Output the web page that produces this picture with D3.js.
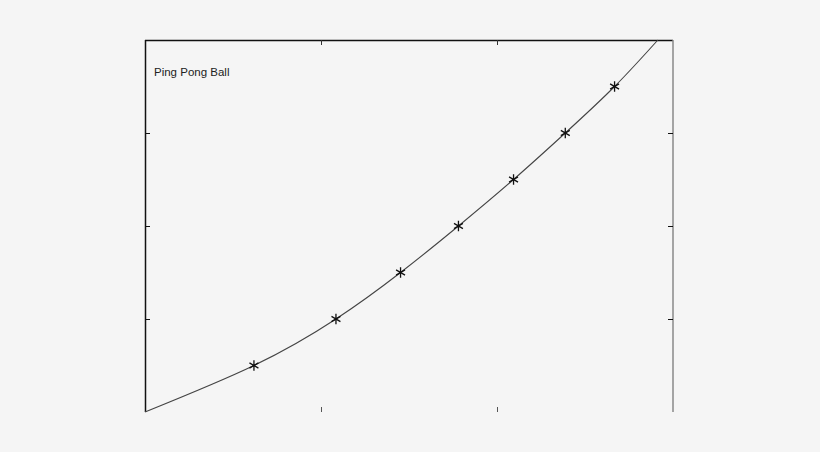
<!DOCTYPE html>
<html>
<head>
<meta charset="utf-8">
<script src="https://cdn.jsdelivr.net/npm/d3@7"></script>
<style>
  body { margin: 0; background: #f5f5f5; }
  svg { display: block; }
</style>
</head>
<body>
<div id="chart"></div>
<script>
// measured points (time, distance)
var pointT = [0.619, 1.085, 1.452, 1.781, 2.094, 2.388, 2.668];
var pointY = [0.5, 1.0, 1.5, 2.0, 2.5, 3.0, 3.5];

// fitted curve
var curveT = [0, 0.619, 1.085, 1.452, 1.781, 2.094, 2.388, 2.668, 2.914];
var curveY = [0, 0.5, 1.0, 1.5, 2.0, 2.5, 3.0, 3.5, 4.0];

var xTicks = [1, 2];
var yTicks = [1, 2, 3];
var label = 'Ping Pong Ball';

drawChart();

function drawChart(){
    var width = 820, height = 452;
    var margin = {top: 40, right: 147, bottom: 40, left: 145};
    var w = width - margin.left - margin.right;
    var h = height - margin.top - margin.bottom;

    var svg = d3.select('#chart').append('svg')
        .attr('width', width)
        .attr('height', height)
        .style('background', '#f5f5f5');

    var g = svg.append('g')
        .attr('transform', 'translate(' + margin.left + ',' + margin.top + ')');

    var x = d3.scaleLinear().domain([0, 3]).range([0, w]);
    var y = d3.scaleLinear().domain([0, 4]).range([h, 0]);

    // axes, ticks pointing inward, no labels
    var tickLen = 5;
    g.append('g')
        .attr('transform', 'translate(0,' + h + ')')
        .call(d3.axisTop(x).tickValues(xTicks).tickSize(tickLen).tickFormat(''))
        .call(s => s.select('.domain').remove())
        .selectAll('line').attr('stroke', '#555');

    g.append('g')
        .call(d3.axisBottom(x).tickValues(xTicks).tickSize(tickLen).tickFormat(''))
        .call(s => s.select('.domain').attr('d', 'M0,0.5H' + w).attr('stroke', '#111').attr('stroke-width', 1.5))
        .selectAll('line').attr('stroke', '#333');

    g.append('g')
        .call(d3.axisRight(y).tickValues(yTicks).tickSize(tickLen).tickFormat(''))
        .call(s => s.select('.domain').attr('d', 'M0.5,0V' + h).attr('stroke', '#111').attr('stroke-width', 1.5))
        .selectAll('line').attr('stroke', '#111');

    g.append('g')
        .attr('transform', 'translate(' + w + ',0)')
        .call(d3.axisLeft(y).tickValues(yTicks).tickSize(tickLen).tickFormat(''))
        .call(s => s.select('.domain').attr('d', 'M0,0V' + h).attr('stroke', '#888').attr('stroke-width', 1.5))
        .selectAll('line').attr('stroke', '#111');

    // fitted curve
    var curveData = curveT.map((t, i) => [t, curveY[i]]);
    var line = d3.line()
        .x(d => x(d[0]))
        .y(d => y(d[1]))
        .curve(d3.curveNatural);

    g.append('path')
        .datum(curveData)
        .attr('d', line)
        .attr('fill', 'none')
        .attr('stroke', '#444')
        .attr('stroke-width', 1.1);

    // star markers
    var star = d3.symbol().type(d3.symbolAsterisk).size(75);
    g.selectAll('.pt')
        .data(pointT.map((t, i) => [t, pointY[i]]))
        .enter().append('path')
        .attr('class', 'pt')
        .attr('transform', d => 'translate(' + x(d[0]) + ',' + y(d[1]) + ')')
        .attr('d', star)
        .attr('fill', 'none')
        .attr('stroke', '#111')
        .attr('stroke-width', 1.3);

    g.append('text')
        .attr('x', 9)
        .attr('y', 36)
        .text(label)
        .style('font-family', 'Liberation Sans, Arial, sans-serif')
        .style('font-size', '11.5px')
        .style('fill', '#222');
}
</script>
</body>
</html>
